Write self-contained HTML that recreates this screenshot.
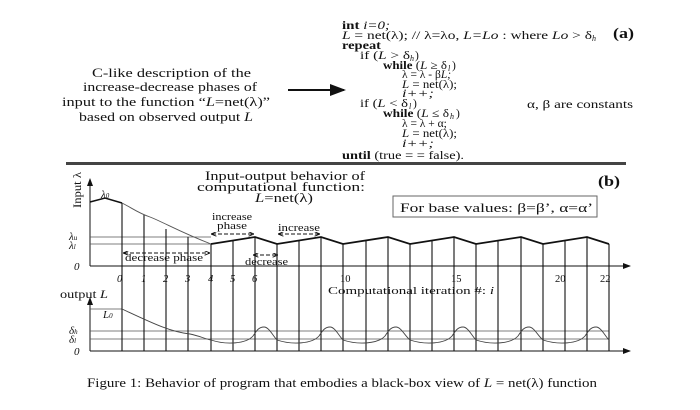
<!DOCTYPE html>
<html><head><meta charset="utf-8"><style>
html,body{margin:0;padding:0;background:#fff;width:700px;height:410px;overflow:hidden}
svg{display:block}
text{font-family:"Liberation Serif",serif;fill:#111}
</style></head><body>
<svg width="700" height="410" viewBox="0 0 700 410" xmlns="http://www.w3.org/2000/svg">
<defs>
<marker id="ar" markerWidth="8" markerHeight="6" refX="7" refY="3" orient="auto"><path d="M0,0 L8,3 L0,6 z" fill="#111"/></marker>
<marker id="as" markerWidth="6" markerHeight="5" refX="5" refY="2.5" orient="auto-start-reverse"><path d="M0,0 L6,2.5 L0,5" fill="none" stroke="#111" stroke-width="1"/></marker>
</defs>
<!-- left description -->
<g font-size="12.5">
<text x="92" y="77" textLength="159" lengthAdjust="spacingAndGlyphs">C-like description of the</text>
<text x="83" y="91" textLength="174" lengthAdjust="spacingAndGlyphs">increase-decrease phases of</text>
<text x="62" y="106" textLength="208" lengthAdjust="spacingAndGlyphs">input to the function “<tspan font-style="italic">L</tspan>=net(λ)”</text>
<text x="79" y="121" textLength="174" lengthAdjust="spacingAndGlyphs">based on observed output <tspan font-style="italic">L</tspan></text>
</g>
<line x1="288" y1="90" x2="344" y2="90" stroke="#111" stroke-width="2" marker-end="url(#ar)"/>
<!-- code -->
<g font-size="11.5">
<text x="342" y="29" textLength="48" lengthAdjust="spacingAndGlyphs"><tspan font-weight="bold">int</tspan> <tspan font-style="italic">i=0;</tspan></text>
<text x="342" y="39" textLength="250" lengthAdjust="spacingAndGlyphs"><tspan font-style="italic">L</tspan> = net(λ);    // λ=λo, <tspan font-style="italic">L=Lo</tspan> : where <tspan font-style="italic">Lo</tspan> &gt; δ</text>
<text x="592" y="41" font-size="8" font-style="italic">h</text>
<text x="342" y="49" font-weight="bold" textLength="39" lengthAdjust="spacingAndGlyphs">repeat</text>
<text x="360" y="59" textLength="50" lengthAdjust="spacingAndGlyphs">if (<tspan font-style="italic">L</tspan> &gt; δ</text><text x="410" y="61" font-size="8" font-style="italic">h</text><text x="415" y="59">)</text>
<text x="383" y="69" textLength="64" lengthAdjust="spacingAndGlyphs"><tspan font-weight="bold">while</tspan>  (<tspan font-style="italic">L</tspan> ≥ δ</text><text x="448" y="71" font-size="8" font-style="italic">l</text><text x="452" y="69">)</text>
<text x="402" y="78">λ = λ - β<tspan font-style="italic">L;</tspan></text>
<text x="402" y="88" textLength="55" lengthAdjust="spacingAndGlyphs"><tspan font-style="italic">L</tspan> = net(λ);</text>
<text x="402" y="97" font-style="italic" textLength="32" lengthAdjust="spacingAndGlyphs">i++;</text>
<text x="360" y="107" textLength="48" lengthAdjust="spacingAndGlyphs">if (<tspan font-style="italic">L</tspan> &lt; δ</text><text x="409" y="109" font-size="8" font-style="italic">l</text><text x="413" y="107">)</text>
<text x="383" y="117" textLength="66" lengthAdjust="spacingAndGlyphs"><tspan font-weight="bold">while</tspan>  (<tspan font-style="italic">L</tspan> ≤ δ</text><text x="450" y="119" font-size="8" font-style="italic">h</text><text x="456" y="117">)</text>
<text x="402" y="127">λ = λ + α;</text>
<text x="402" y="137" textLength="55" lengthAdjust="spacingAndGlyphs"><tspan font-style="italic">L</tspan> = net(λ);</text>
<text x="402" y="147" font-style="italic" textLength="32" lengthAdjust="spacingAndGlyphs">i++;</text>
<text x="342" y="159" textLength="122" lengthAdjust="spacingAndGlyphs"><tspan font-weight="bold">until</tspan> (true = = false).</text>
</g>
<text x="613" y="38" font-size="15" font-weight="bold" textLength="21" lengthAdjust="spacingAndGlyphs">(a)</text>
<text x="527" y="108" font-size="12" textLength="106" lengthAdjust="spacingAndGlyphs">α, β are constants</text>
<!-- separator -->
<rect x="66" y="162" width="560" height="3" fill="#444"/>
<text x="598" y="186" font-size="15" font-weight="bold" textLength="22" lengthAdjust="spacingAndGlyphs">(b)</text>
<!-- title b -->
<g font-size="12.5">
<text x="205" y="180" textLength="160" lengthAdjust="spacingAndGlyphs">Input-output behavior of</text>
<text x="197" y="191" textLength="168" lengthAdjust="spacingAndGlyphs">computational function:</text>
<text x="255" y="202" textLength="58" lengthAdjust="spacingAndGlyphs"><tspan font-style="italic">L</tspan>=net(λ)</text>
</g>
<rect x="393" y="196" width="204" height="21" fill="#fff" stroke="#666" stroke-width="1"/>
<text x="400" y="212" font-size="12.5" textLength="193" lengthAdjust="spacingAndGlyphs">For base values:  β=β’, α=α’</text>
<!-- axes -->
<text transform="translate(81,208) rotate(-90)" font-size="12" textLength="36" lengthAdjust="spacingAndGlyphs">Input λ</text>
<line x1="90" y1="266" x2="90" y2="179" stroke="#111" stroke-width="1" marker-end="url(#ar)"/>
<line x1="90" y1="266" x2="630" y2="266" stroke="#111" stroke-width="1" marker-end="url(#ar)"/>
<line x1="90" y1="351" x2="90" y2="298" stroke="#111" stroke-width="1" marker-end="url(#ar)"/>
<line x1="90" y1="351" x2="630" y2="351" stroke="#111" stroke-width="1" marker-end="url(#ar)"/>
<g font-size="11" font-style="italic">
<text x="69" y="240">λ<tspan font-size="7">u</tspan></text>
<text x="69" y="249">λ<tspan font-size="7">l</tspan></text>
<text x="74" y="270">0</text>
<text x="101" y="198">λ<tspan font-size="7">0</tspan></text>
<text x="69" y="334">δ<tspan font-size="7">h</tspan></text>
<text x="69" y="343">δ<tspan font-size="7">l</tspan></text>
<text x="74" y="355">0</text>
<text x="103" y="318">L<tspan font-size="7">0</tspan></text>
</g>
<text x="60" y="298" font-size="12" textLength="48" lengthAdjust="spacingAndGlyphs">output <tspan font-style="italic">L</tspan></text>
<!-- horizontal level lines -->
<g stroke="#555" stroke-width="0.8">
<line x1="90" y1="237" x2="211" y2="237"/>
<line x1="90" y1="244" x2="211" y2="244"/>
<line x1="90" y1="309" x2="122" y2="309"/>
<line x1="90" y1="331" x2="609" y2="331"/>
<line x1="90" y1="339" x2="609" y2="339"/>
</g>
<!-- vertical iteration lines -->
<g stroke="#111" stroke-width="1.1">
<line x1="122" y1="203" x2="122" y2="351"/>
<line x1="144" y1="215" x2="144" y2="351"/>
<line x1="166" y1="229" x2="166" y2="351"/>
<line x1="188" y1="237" x2="188" y2="351"/>
<line x1="211" y1="244" x2="211" y2="351"/>
<line x1="233" y1="240" x2="233" y2="351"/>
<line x1="255" y1="237" x2="255" y2="351"/>
<line x1="277" y1="244" x2="277" y2="351"/>
<line x1="299" y1="240" x2="299" y2="351"/>
<line x1="321" y1="237" x2="321" y2="351"/>
<line x1="343" y1="244" x2="343" y2="351"/>
<line x1="366" y1="240" x2="366" y2="351"/>
<line x1="388" y1="237" x2="388" y2="351"/>
<line x1="410" y1="244" x2="410" y2="351"/>
<line x1="432" y1="240" x2="432" y2="351"/>
<line x1="454" y1="237" x2="454" y2="351"/>
<line x1="476" y1="244" x2="476" y2="351"/>
<line x1="498" y1="240" x2="498" y2="351"/>
<line x1="521" y1="237" x2="521" y2="351"/>
<line x1="543" y1="244" x2="543" y2="351"/>
<line x1="565" y1="240" x2="565" y2="351"/>
<line x1="587" y1="237" x2="587" y2="351"/>
<line x1="609" y1="244" x2="609" y2="351"/>
</g>
<!-- lambda curve -->
<polyline points="90,202 105,198 122,203" fill="none" stroke="#111" stroke-width="1.5"/>
<path d="M122,203 C132,208 138,213 150,217 C165,223 180,232 211,244" fill="none" stroke="#555" stroke-width="0.9"/>
<polyline points="211,244 255,237 277,244 321,237 343,244 388,237 410,244 454,237 476,244 521,237 543,244 587,237 609,244" fill="none" stroke="#111" stroke-width="1.8"/>
<!-- L curve -->
<path d="M122,309 C150,322 170,332 190,334 C200,336 205,339 211,340
M211,340 C226,345 246,344 253,336 C257,330 259,327 264,327 C269,327 273,336 277,340
M277,340 C292,345 312,344 319,336 C323,330 325,327 330,327 C335,327 339,336 343,340
M343,340 C358,345 378,344 385,336 C389,330 391,327 396,327 C401,327 405,336 410,340
M410,340 C425,345 445,344 452,336 C456,330 458,327 463,327 C468,327 472,336 476,340
M476,340 C491,345 511,344 518,336 C522,330 524,327 529,327 C534,327 538,336 543,340
M543,340 C558,345 578,344 585,336 C589,330 591,327 596,327 C601,327 605,336 609,340" fill="none" stroke="#444" stroke-width="0.9"/>
<!-- phase annotations -->
<g stroke="#111" stroke-width="0.9" stroke-dasharray="4,2" fill="none">
<line x1="124" y1="253" x2="209" y2="253" marker-start="url(#as)" marker-end="url(#as)"/>
<line x1="212" y1="234" x2="253" y2="234" marker-start="url(#as)" marker-end="url(#as)"/>
<line x1="279" y1="234" x2="319" y2="234" marker-start="url(#as)" marker-end="url(#as)"/>
<line x1="254" y1="255" x2="277" y2="255" marker-start="url(#as)" marker-end="url(#as)"/>
</g>
<g font-size="10.5">
<text x="125" y="261" textLength="78" lengthAdjust="spacingAndGlyphs">decrease phase</text>
<text x="212" y="220" textLength="40" lengthAdjust="spacingAndGlyphs">increase</text>
<text x="217" y="229" textLength="30" lengthAdjust="spacingAndGlyphs">phase</text>
<text x="278" y="231" textLength="42" lengthAdjust="spacingAndGlyphs">increase</text>
<text x="245" y="265" textLength="43" lengthAdjust="spacingAndGlyphs">decrease</text>
</g>
<!-- iteration labels -->
<g font-size="10.5" font-style="italic">
<text x="117" y="282">0</text><text x="141" y="282">1</text><text x="163" y="282">2</text>
<text x="185" y="282">3</text><text x="208" y="282">4</text><text x="230" y="282">5</text><text x="252" y="282">6</text>
</g>
<g font-size="10.5">
<text x="340" y="282">10</text><text x="451" y="282">15</text><text x="555" y="282">20</text><text x="600" y="282">22</text>
<text x="328" y="294" textLength="166" lengthAdjust="spacingAndGlyphs">Computational iteration #:  <tspan font-style="italic">i</tspan></text>
</g>
<!-- caption -->
<text x="87" y="387" font-size="13" fill="#333" textLength="510" lengthAdjust="spacingAndGlyphs">Figure 1: Behavior of program that embodies a black-box view of <tspan font-style="italic">L</tspan> = net(λ) function</text>
</svg>
</body></html>
